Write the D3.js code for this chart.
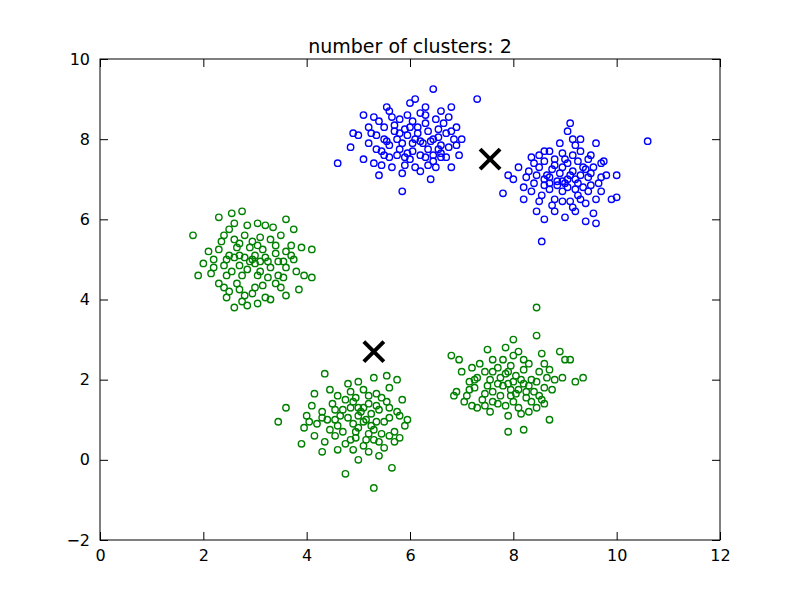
<!DOCTYPE html>
<html><head><meta charset="utf-8">
<script src="https://cdnjs.cloudflare.com/ajax/libs/d3/7.8.5/d3.min.js"></script>
<style>body{margin:0;background:#fff}svg text{font-family:"DejaVu Sans",sans-serif}</style>
</head><body><svg id="chart" width="800" height="600"></svg>
<script>
// points, per cluster
let blueA = [[5.1,8.6],[5.3,8.55],[5.5,8.3],[5.6,8.7],[5.8,8.5],[6.0,8.9],[6.1,9.0],[6.3,8.6],[6.45,9.25],[6.6,8.7],[6.8,8.8],[6.9,8.3],[5.0,8.1],[5.2,7.9],[5.35,8.1],[5.45,7.7],[5.6,7.85],[5.7,8.2],[5.85,7.9],[5.95,8.1],[6.05,7.7],[6.15,8.3],[6.25,7.9],[6.35,8.2],[6.45,7.6],[6.55,8.05],[6.65,8.4],[6.75,7.8],[6.85,8.0],[6.95,7.6],[5.1,7.5],[5.3,7.4],[5.5,7.6],[5.65,7.3],[5.75,7.6],[5.9,7.35],[6.0,7.5],[6.2,7.2],[6.3,7.55],[6.5,7.3],[6.6,7.55],[6.8,7.3],[4.85,7.8],[4.9,8.15],[4.6,7.4],[5.85,6.7],[5.4,7.1],[6.4,7.0],[7.3,9.0],[5.55,8.8],[6.05,8.45],[5.75,8.0],[6.1,8.0],[6.45,8.0],[6.2,7.95],[5.9,8.25],[6.6,7.85],[6.3,8.8],[5.2,8.3],[6.7,8.15],
  [5.4,8.45],[5.65,8.55],[5.95,8.6],[6.2,8.65],[6.5,8.5],[6.75,8.55],[5.25,8.15],[5.5,8.0],[5.8,8.15],[6.0,8.3],[6.3,8.4],[6.55,8.25],[6.8,8.2],[5.55,7.95],[5.8,7.75],[6.05,7.9],[6.35,7.75],[6.6,7.65],[6.9,7.85],[5.35,7.75],[5.6,7.55],[5.95,7.65],[6.2,7.6],[6.45,7.45],[6.7,7.55],[5.45,7.35],[5.85,7.15],[6.1,7.3],[6.35,7.35],[7.0,8.0],[5.7,8.35],[6.15,8.15],[6.4,7.95],[5.9,7.55],[6.55,7.75]];
let blueB = [[8.5,7.6],[8.7,7.7],[8.9,7.9],[9.1,8.4],[9.15,8.0],[9.3,7.7],[9.5,7.6],[9.7,7.4],[8.1,7.3],[8.3,7.2],[8.5,7.3],[8.6,7.0],[8.75,7.25],[8.85,6.95],[8.95,7.3],[9.05,7.0],[9.15,7.2],[9.25,6.9],[9.35,7.3],[9.45,7.05],[9.55,7.3],[9.65,6.9],[9.8,7.1],[10.0,7.1],[8.0,7.0],[8.2,6.8],[8.4,6.9],[8.55,6.6],[8.7,6.75],[8.8,6.5],[8.95,6.7],[9.1,6.45],[9.2,6.75],[9.3,6.5],[9.45,6.7],[9.6,6.5],[9.9,6.5],[10.0,6.55],[8.2,6.5],[8.45,6.2],[8.6,6.0],[8.8,6.2],[9.0,6.05],[9.2,6.2],[9.4,5.95],[9.6,5.9],[8.55,5.45],[7.8,6.65],[7.9,7.1],[10.6,7.95],[9.0,7.5],[8.8,7.5],[9.3,8.0],[9.6,7.9],[9.0,6.9],[8.65,7.1],[9.35,6.8],[9.75,7.45],[8.35,7.55],[9.15,7.6],
  [8.4,7.4],[8.6,7.45],[8.8,7.35],[9.05,7.4],[9.25,7.45],[9.45,7.5],[8.25,7.05],[8.45,7.1],[8.7,7.05],[8.9,7.15],[9.1,7.1],[9.3,7.1],[9.5,7.15],[9.7,7.05],[8.35,6.7],[8.6,6.85],[8.85,6.85],[9.05,6.8],[9.25,6.6],[9.5,6.85],[9.7,6.7],[8.5,6.45],[8.75,6.35],[8.95,6.45],[9.15,6.3],[9.4,6.4],[9.55,6.15],[8.95,6.95],[9.2,7.0],[8.7,6.9],[9.4,7.25],[8.95,7.65],[9.2,7.85],[9.05,8.2],[8.6,7.7]];
let greenC = [[2.3,6.05],[2.55,6.15],[2.75,6.2],[2.6,5.9],[3.05,5.9],[3.2,5.85],[3.6,6.0],[3.75,5.75],[2.4,5.6],[2.6,5.5],[2.8,5.6],[2.95,5.45],[3.1,5.55],[3.3,5.5],[3.5,5.6],[3.7,5.35],[3.9,5.3],[2.1,5.2],[2.3,5.25],[2.5,5.1],[2.65,5.3],[2.8,5.05],[2.9,5.3],[3.0,5.1],[3.15,5.25],[3.25,4.95],[3.4,5.15],[3.55,4.95],[3.75,5.0],[4.1,5.25],[1.8,5.6],[2.0,4.9],[2.2,4.8],[2.4,4.85],[2.55,4.7],[2.7,4.85],[2.85,4.75],[3.0,4.9],[3.1,4.7],[3.3,4.8],[3.45,4.6],[3.6,4.8],[3.8,4.7],[3.95,4.6],[4.1,4.55],[1.9,4.6],[2.3,4.4],[2.5,4.2],[2.65,4.4],[2.8,4.1],[3.0,4.3],[3.2,4.05],[3.4,4.4],[3.6,4.1],[3.85,4.25],[2.6,3.8],[2.85,3.85],[3.05,3.9],[3.3,4.0],[2.45,4.05],
  [2.5,5.75],[2.85,5.85],[3.35,5.8],[2.35,5.45],[2.7,5.4],[3.05,5.35],[3.4,5.35],[3.6,5.2],[2.2,5.0],[2.45,5.0],[2.7,5.1],[2.95,5.0],[3.2,5.05],[3.45,4.95],[3.7,5.1],[2.15,4.65],[2.45,4.6],[2.75,4.6],[3.05,4.6],[3.25,4.55],[3.55,4.55],[2.4,4.3],[2.7,4.25],[2.95,4.15],[3.15,4.35],[3.5,4.3],[2.75,3.95],[3.1,4.95],[2.9,4.95],[2.6,5.05]];
let greenD = [[4.35,2.15],[4.8,1.9],[5.0,1.95],[5.3,2.05],[5.55,2.1],[5.75,2.0],[4.6,1.6],[4.85,1.7],[5.1,1.75],[5.35,1.65],[5.6,1.8],[5.85,1.5],[4.1,1.35],[4.3,1.2],[4.5,1.4],[4.7,1.25],[4.9,1.45],[5.05,1.2],[5.2,1.4],[5.4,1.25],[5.55,1.45],[5.75,1.2],[5.95,1.0],[3.6,1.3],[4.0,1.1],[4.2,0.9],[4.4,1.0],[4.6,0.85],[4.8,1.05],[5.0,0.8],[5.15,1.0],[5.3,0.75],[5.5,0.95],[5.7,0.7],[5.9,0.85],[3.45,0.95],[3.95,0.8],[4.15,0.6],[4.35,0.45],[4.55,0.6],[4.75,0.4],[4.95,0.55],[5.1,0.35],[5.3,0.5],[5.5,0.3],[5.7,0.45],[3.9,0.4],[4.3,0.2],[4.6,0.25],[5.0,0.0],[5.4,0.1],[5.65,-0.2],[4.75,-0.35],[5.3,-0.7],[5.0,1.1],[5.25,1.15],[4.65,1.1],[5.8,0.55],[4.45,1.75],[4.15,1.65],
  [4.95,1.55],[5.2,1.6],[5.45,1.55],[4.75,1.5],[4.55,1.25],[4.85,1.3],[5.1,1.3],[5.35,1.35],[5.6,1.3],[4.3,1.05],[4.55,1.0],[4.9,0.9],[5.1,0.95],[5.35,0.95],[5.6,1.05],[4.45,0.75],[4.7,0.7],[4.95,0.7],[5.2,0.65],[5.45,0.65],[4.85,0.5],[5.15,0.5],[5.4,0.45],[4.9,0.25],[5.2,0.2],[5.6,0.6],[5.8,1.1],[4.05,0.95],[5.0,1.3],[5.25,0.85]];
let greenE = [[6.8,2.6],[6.95,2.5],[7.2,2.3],[7.5,2.75],[7.6,2.5],[7.85,2.8],[8.0,3.0],[8.1,2.7],[8.2,2.5],[8.45,3.1],[8.45,3.8],[8.55,2.65],[8.9,2.7],[9.0,2.5],[9.1,2.5],[7.0,2.2],[7.15,1.95],[7.3,2.05],[7.45,2.2],[7.55,2.0],[7.7,2.3],[7.85,2.15],[7.95,2.35],[8.05,2.1],[8.2,2.25],[8.35,2.0],[8.5,2.2],[8.65,2.05],[8.8,2.0],[8.95,2.05],[9.35,2.05],[9.2,1.95],[6.9,1.7],[7.1,1.6],[7.25,1.8],[7.4,1.5],[7.6,1.7],[7.8,1.85],[7.95,1.6],[8.1,1.75],[8.25,1.55],[8.4,1.7],[8.55,1.5],[8.75,1.75],[6.85,1.6],[7.05,1.45],[7.3,1.3],[7.55,1.2],[7.7,1.4],[7.9,1.1],[8.1,1.3],[8.3,1.2],[8.6,1.4],[8.7,1.0],[7.9,0.7],[8.2,0.75],[7.45,1.35],[8.0,1.95],[7.75,2.05],[8.3,1.85],
  [7.8,2.5],[8.0,2.6],[8.3,2.4],[8.6,2.4],[7.35,2.4],[7.6,2.2],[7.9,2.2],[8.15,2.0],[8.45,1.95],[8.7,2.25],[7.25,2.0],[7.5,1.85],[7.7,1.9],[7.9,1.9],[8.2,1.9],[8.6,1.8],[7.15,1.75],[7.45,1.65],[7.75,1.6],[8.0,1.45],[8.35,1.45],[8.5,1.6],[7.6,1.45],[7.85,1.35],[8.15,1.15],[8.45,1.3],[7.2,1.35],[8.05,1.65],[7.95,1.75],[8.25,1.7]];
let centroids = [[7.55,7.5],[5.3,2.7]];
let xTicks = [0,2,4,6,8,10,12];
let yTicks = [-2,0,2,4,6,8,10];

let svg = d3.select("#chart");
let x = d3.scaleLinear().domain([0,12]).range([100,720]);
let y = d3.scaleLinear().domain([-2,10]).range([540,59]);

let fmt = d => d<0 ? "\u2212"+(-d) : d;

/*axes, ticks inward on all sides*/
let axes = [
  svg.append("g").attr("transform","translate(0,540)").call(d3.axisBottom(x).tickValues(xTicks).tickSize(-8).tickPadding(10).tickFormat(fmt)),
  svg.append("g").attr("transform","translate(0,59)").call(d3.axisTop(x).tickValues(xTicks).tickSize(-8).tickFormat("")),
  svg.append("g").attr("transform","translate(100,0)").call(d3.axisLeft(y).tickValues(yTicks).tickSize(-8).tickPadding(10).tickFormat(fmt)),
  svg.append("g").attr("transform","translate(720,0)").call(d3.axisRight(y).tickValues(yTicks).tickSize(-8).tickFormat(""))
];
axes.forEach(g => g.attr("font-size",16).attr("font-family","DejaVu Sans"));
svg.selectAll(".domain").remove();
svg.selectAll(".tick text").style("font-size","16px").attr("fill","#000");
svg.selectAll(".tick line").attr("stroke","#000");
svg.append("rect").attr("x",100).attr("y",59).attr("width",620).attr("height",481)
  .attr("fill","none").attr("stroke","#000");

function drawPts(arr, col) {
  svg.append("g").selectAll("circle").data(arr).enter().append("circle")
    .attr("cx", d=>x(d[0])).attr("cy", d=>y(d[1])).attr("r",3.2)
    .attr("fill","none").attr("stroke",col).attr("stroke-width",1.4);
}
drawPts(blueA,"#0000ff");
drawPts(blueB,"#0000ff");
drawPts(greenC,"#008000");
drawPts(greenD,"#008000");
drawPts(greenE,"#008000");

svg.append("g").selectAll("path").data(centroids).enter().append("path")
  .attr("d", d=>{ let cx=x(d[0]), cy=y(d[1]), s=10;
    return `M${cx-s},${cy-s}L${cx+s},${cy+s}M${cx-s},${cy+s}L${cx+s},${cy-s}`; })
  .attr("stroke","#000").attr("stroke-width",4);

svg.append("text").attr("x",410).attr("y",53).attr("text-anchor","middle")
  .style("font-size","19px").text("number of clusters: 2");
</script></body></html>
